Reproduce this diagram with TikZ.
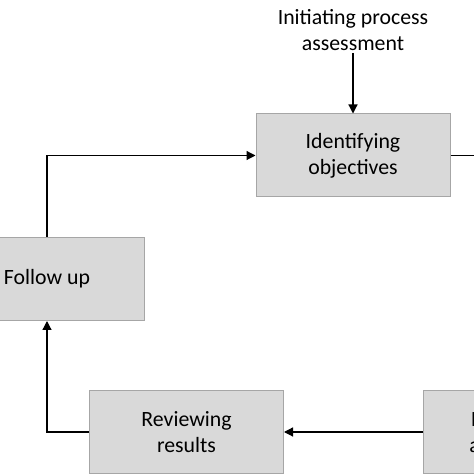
\documentclass[tikz,border=0pt]{standalone}
\usepackage{fontspec}
\setmainfont{Carlito}
\usetikzlibrary{positioning,arrows.meta}
\definecolor{boxgray}{RGB}{217,217,217}
\definecolor{edgegray}{RGB}{166,166,166}

\begin{document}
\begin{tikzpicture}[x=1pt,y=1pt,
    graybox/.style={draw=edgegray,fill=boxgray,line width=1pt,minimum width=194pt,minimum height=83pt,align=center},
    blank/.style={inner sep=2pt,align=center},
    link/.style={draw,line width=1.2pt},
    every node/.style={font=\fontsize{21.8}{26.2}\selectfont}
    ]
    \useasboundingbox (0,0) rectangle (474,474);
    \clip (0,0) rectangle (474,474);
    \node[graybox] (ident) at (353,318.5) {Identifying\\objectives};
    \node[blank] (init) at (353,444) {Initiating process\\assessment};
    \node[graybox] (follow) at (47,195) {Follow up};
    %%% onderste rij
    \node[graybox] (review) at (186.5,42) {Reviewing\\results};
    \node[graybox,right=139pt of review] (perform) {Performing\\assessment};
    \coordinate[right=40pt of ident.east] (offright);
    %%% verbindingen
    \draw[link,-{Triangle[length=9pt,width=9pt]}] (init) -- (ident);
    \draw[link,-{Triangle[length=9pt,width=9pt]}] (follow.north) |- (ident.west);
    \draw[link,-{Triangle[length=9pt,width=9pt]}] (review.west) -| (follow.south);
    \draw[link,-{Triangle[length=9pt,width=9pt]}] (perform) -- (review);
    \draw[link] (ident.east) -- (offright);
\end{tikzpicture}
\end{document}
